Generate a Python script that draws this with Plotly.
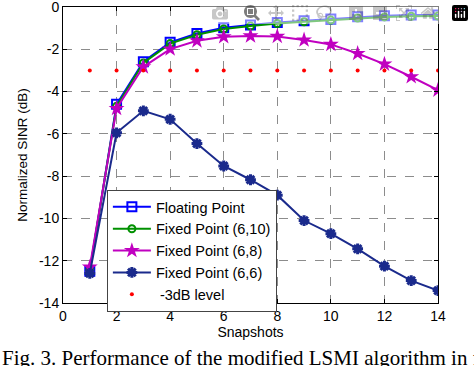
import plotly.graph_objects as go

snapshots = list(range(1, 15))
floating_point = [-12.5, -4.6, -2.59, -1.67, -1.25, -0.98, -0.85, -0.73, -0.65, -0.57, -0.46, -0.41, -0.38, -0.38]
fixed_6_10 = [-12.45, -4.7, -2.65, -1.73, -1.31, -1.04, -0.9, -0.78, -0.7, -0.62, -0.52, -0.47, -0.44, -0.43]
fixed_6_8 = [-12.3, -4.8, -2.83, -1.99, -1.6, -1.41, -1.37, -1.39, -1.56, -1.77, -2.2, -2.7, -3.3, -3.93]
fixed_6_6 = [-12.6, -5.95, -4.91, -5.31, -6.46, -7.52, -8.17, -8.9, -10.1, -10.72, -11.44, -12.26, -12.94, -13.41]
level_3db = [-3] * 14

x_ticks = [0, 2, 4, 6, 8, 10, 12, 14]
y_ticks = [0, -2, -4, -6, -8, -10, -12, -14]

SANS = "Liberation Sans, Arial"

fig = go.Figure()
fig.add_trace(go.Scatter(x=snapshots, y=floating_point, name="Floating Point", mode="lines+markers",
                         line=dict(color="#0000ff", width=2),
                         marker=dict(symbol="square-open", size=9, color="#0000ff", line=dict(width=2))))
fig.add_trace(go.Scatter(x=snapshots, y=fixed_6_10, name="Fixed Point (6,10)", mode="lines+markers",
                         line=dict(color="#009000", width=2),
                         marker=dict(symbol="circle-open", size=7, color="#009000", line=dict(width=2))))
fig.add_trace(go.Scatter(x=snapshots, y=fixed_6_8, name="Fixed Point (6,8)", mode="lines+markers",
                         line=dict(color="#c000c0", width=2),
                         marker=dict(symbol="star", size=12, color="#c000c0")))
fig.add_trace(go.Scatter(x=snapshots, y=fixed_6_6, name="Fixed Point (6,6)", mode="lines+markers",
                         line=dict(color="#1a2a8c", width=2),
                         marker=dict(symbol="asterisk-open", size=9, color="#1a2a8c", line=dict(width=3, color="#1a2a8c"))))
fig.add_trace(go.Scatter(x=snapshots, y=level_3db, name=" -3dB level", mode="markers",
                         marker=dict(symbol="circle", size=4, color="#ff0000")))

axis_common = dict(showline=True, linecolor="black", linewidth=1, mirror="allticks",
                   ticks="inside", ticklen=4, tickcolor="black",
                   showgrid=True, gridcolor="#8c8c8c", griddash="dash", gridwidth=1,
                   zeroline=False, ticklabeloverflow="allow", automargin=False,
                   tickfont=dict(family=SANS, size=14, color="black"))

fig.update_xaxes(range=[0, 14], tickvals=x_ticks, ticktext=[str(v) for v in x_ticks],
                 title=dict(text="Snapshots", font=dict(family=SANS, size=14, color="black"), standoff=1),
                 **axis_common)
fig.update_yaxes(range=[-14, 0], tickvals=y_ticks, ticktext=[str(v) for v in y_ticks],
                 title=dict(text="Normalized SINR (dB)", font=dict(family=SANS, size=13.5, color="black"), standoff=8),
                 **axis_common)

fig.update_layout(
    width=474, height=366,
    margin=dict(l=63, r=36, t=7, b=63),
    plot_bgcolor="white", paper_bgcolor="white",
    font=dict(family=SANS, size=14, color="black"),
    legend=dict(x=0.117, y=0.382, xanchor="left", yanchor="top",
                bgcolor="white", bordercolor="#444", borderwidth=1,
                font=dict(family=SANS, size=14.5, color="black"),
                tracegroupgap=0, itemwidth=38),
    annotations=[dict(text="Fig. 3. Performance of the modified LSMI algorithm in f",
                      xref="paper", yref="paper", x=-0.168, y=-0.138, xanchor="left", yanchor="top",
                      showarrow=False, font=dict(family="Liberation Serif, Times New Roman", size=21, color="black"))],
)

fig.write_html("out.html", post_script="document.body.style.margin='0';document.body.style.overflow='hidden';")
